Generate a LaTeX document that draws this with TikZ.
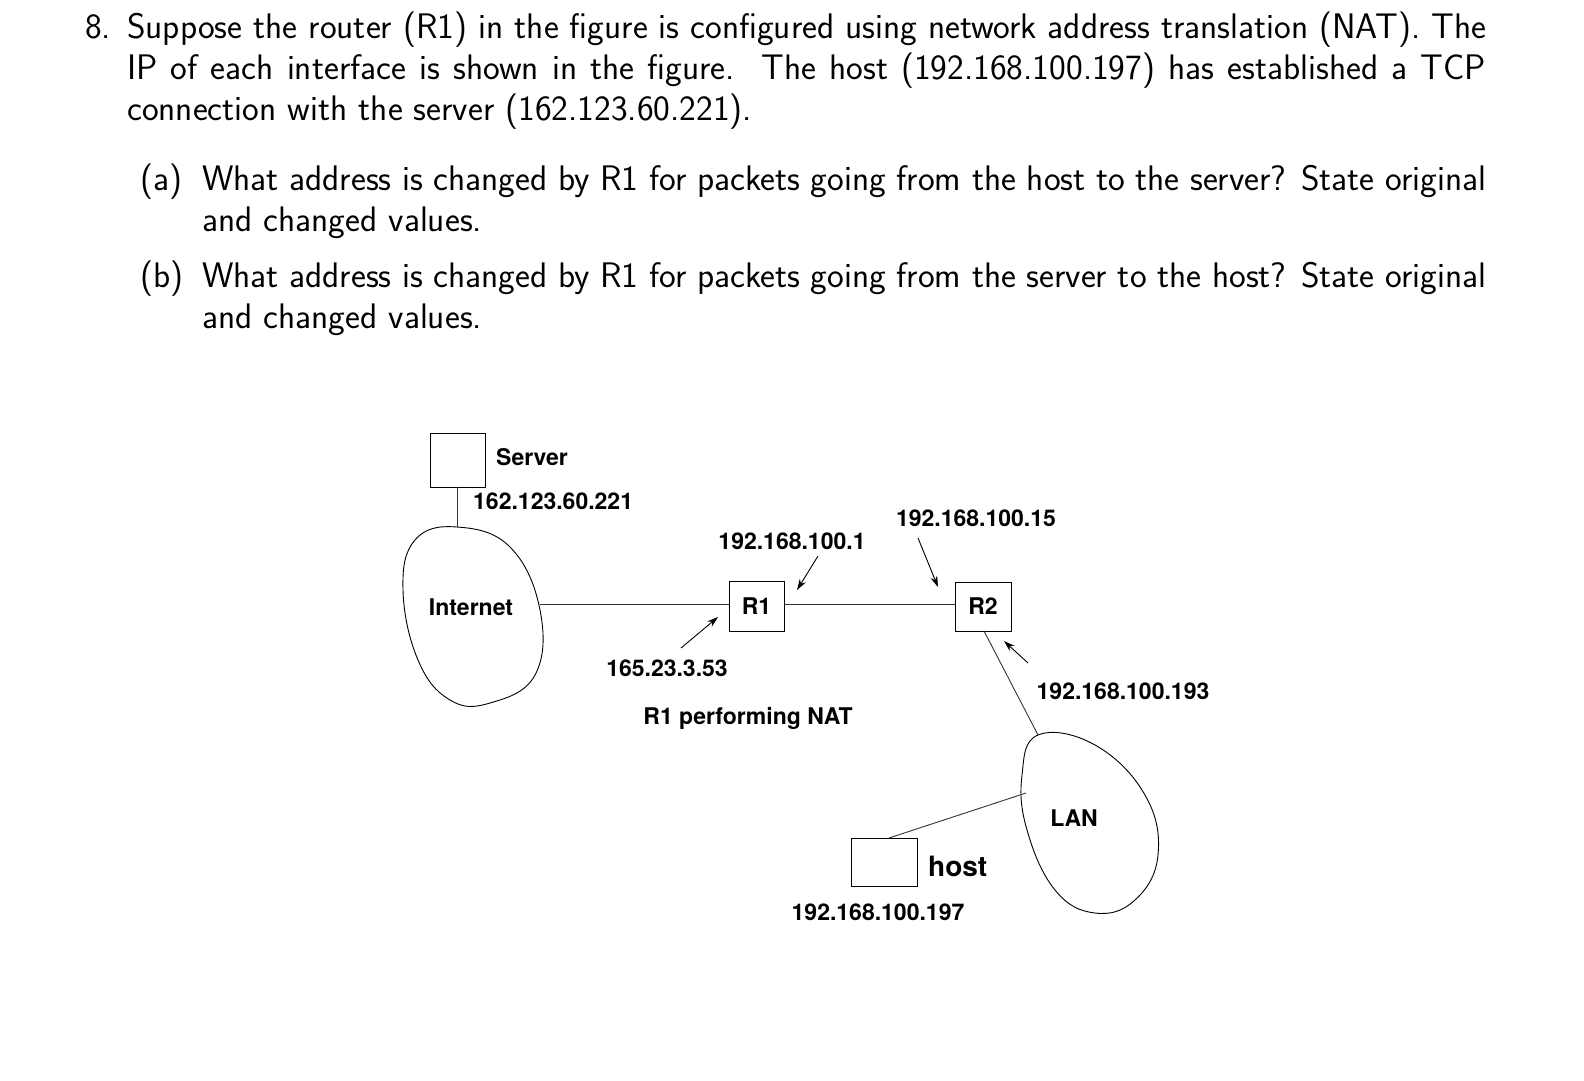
\documentclass[tikz,border=0pt]{standalone}
\usepackage{fontspec}
\newfontfamily\dfont{TeX Gyre Heros}
\usetikzlibrary{arrows.meta}
\tikzset{
 lbl/.style={font=\dfont\bfseries\fontsize{23}{26}\selectfont,inner sep=0pt},
 box/.style={draw,line width=0.9pt,inner sep=0pt},
 ln/.style={line width=0.9pt,draw=black!80},
 arr/.style={line width=0.9pt,-{Stealth[length=11pt,width=7pt]}},
 txt/.style={anchor=base west,inner sep=0pt,font=\sffamily\fontsize{35.5}{41}\selectfont}
}
\begin{document}
\begin{tikzpicture}[x=1pt,y=-1pt]
\useasboundingbox[fill=white] (0,0) rectangle (1584,1080);
% text
\node[txt] (n8) at (85,38) {8.};
\node[txt] (l1) at (127,38) {\makebox[1359pt][s]{Suppose the router (R1) in the figure is configured using network address translation (NAT). The}};
\node[txt] (l2) at (127,79) {\makebox[1359pt][s]{IP of each interface is shown in the figure.\ \ The host (192.168.100.197) has established a TCP}};
\node[txt] (l3) at (127,120) {connection with the server (162.123.60.221).};
\node[txt] (a0) at (140,190) {(a)};
\node[txt] (a1) at (202,190) {\makebox[1284pt][s]{What address is changed by R1 for packets going from the host to the server? State original}};
\node[txt] (a2) at (202,231) {and changed values.};
\node[txt] (b0) at (140,287) {(b)};
\node[txt] (b1) at (202,287) {\makebox[1284pt][s]{What address is changed by R1 for packets going from the server to the host? State original}};
\node[txt] (b2) at (202,328) {and changed values.};
% diagram
\node[box,minimum width=55pt,minimum height=54pt] (srv) at (457.5,460) {};
\node[lbl,anchor=west] (srvl) at (496,457) {Server};
\node[lbl,anchor=west] (srvip) at (473,501) {162.123.60.221};
\coordinate (itop) at (457,527);
\draw[ln] (srv.south -| itop) -- (itop);
\draw[line width=0.9pt] plot[smooth cycle,tension=0.7] coordinates {(457,527) (510,547) (540,610) (535,675) (490,703) (450,700) (418,660) (403,590) (415,540)};
\node[lbl] (inet) at (471,607) {Internet};
\node[box,minimum width=55pt,minimum height=50pt] (r1) at (756.5,606) {};
\node[lbl] at (r1) {R1};
\node[box,minimum width=56pt,minimum height=49pt] (r2) at (983,606.5) {};
\node[lbl] at (r2) {R2};
\coordinate (iright) at (540,604);
\draw[ln] (iright) -- (iright -| r1.west);
\draw[ln] (r1.east |- 0,604) -- (r2.west |- 0,604);
\node[lbl] (ip1) at (792,541) {192.168.100.1};
\coordinate (a1s) at (818,556); \coordinate (a1e) at (797,590);
\draw[arr] (a1s) -- (a1e);
\node[lbl] (ip15) at (976,518) {192.168.100.15};
\coordinate (a2s) at (918,538); \coordinate (a2e) at (938,587);
\draw[arr] (a2s) -- (a2e);
\node[lbl] (ip53) at (667,668) {165.23.3.53};
\coordinate (a3s) at (681,648); \coordinate (a3e) at (718,617);
\draw[arr] (a3s) -- (a3e);
\node[lbl] (nat) at (748,718) {R1 performing NAT};
\coordinate (ltop) at (1038,735);
\draw[ln] (984,631) -- (ltop);
\coordinate (a4s) at (1028,663); \coordinate (a4e) at (1004,641);
\draw[arr] (a4s) -- (a4e);
\node[lbl] (ip193) at (1123,691) {192.168.100.193};
\draw[line width=0.9pt] plot[smooth cycle,tension=0.7] coordinates {(1038,735) (1095,745) (1145,795) (1158,855) (1135,900) (1095,913) (1055,890) (1027,830) (1022,775)};
\node[lbl] (lan) at (1074,818) {LAN};
\node[box,minimum width=66pt,minimum height=48pt] (host) at (884,862) {};
\node[lbl,font=\dfont\bfseries\fontsize{28}{30}\selectfont,anchor=west] (hostl) at (928,866) {host};
\node[lbl] (hostip) at (878,912) {192.168.100.197};
\coordinate (lanl) at (1026,793);
\draw[ln] (889,838) -- (lanl);
\end{tikzpicture}
\end{document}
